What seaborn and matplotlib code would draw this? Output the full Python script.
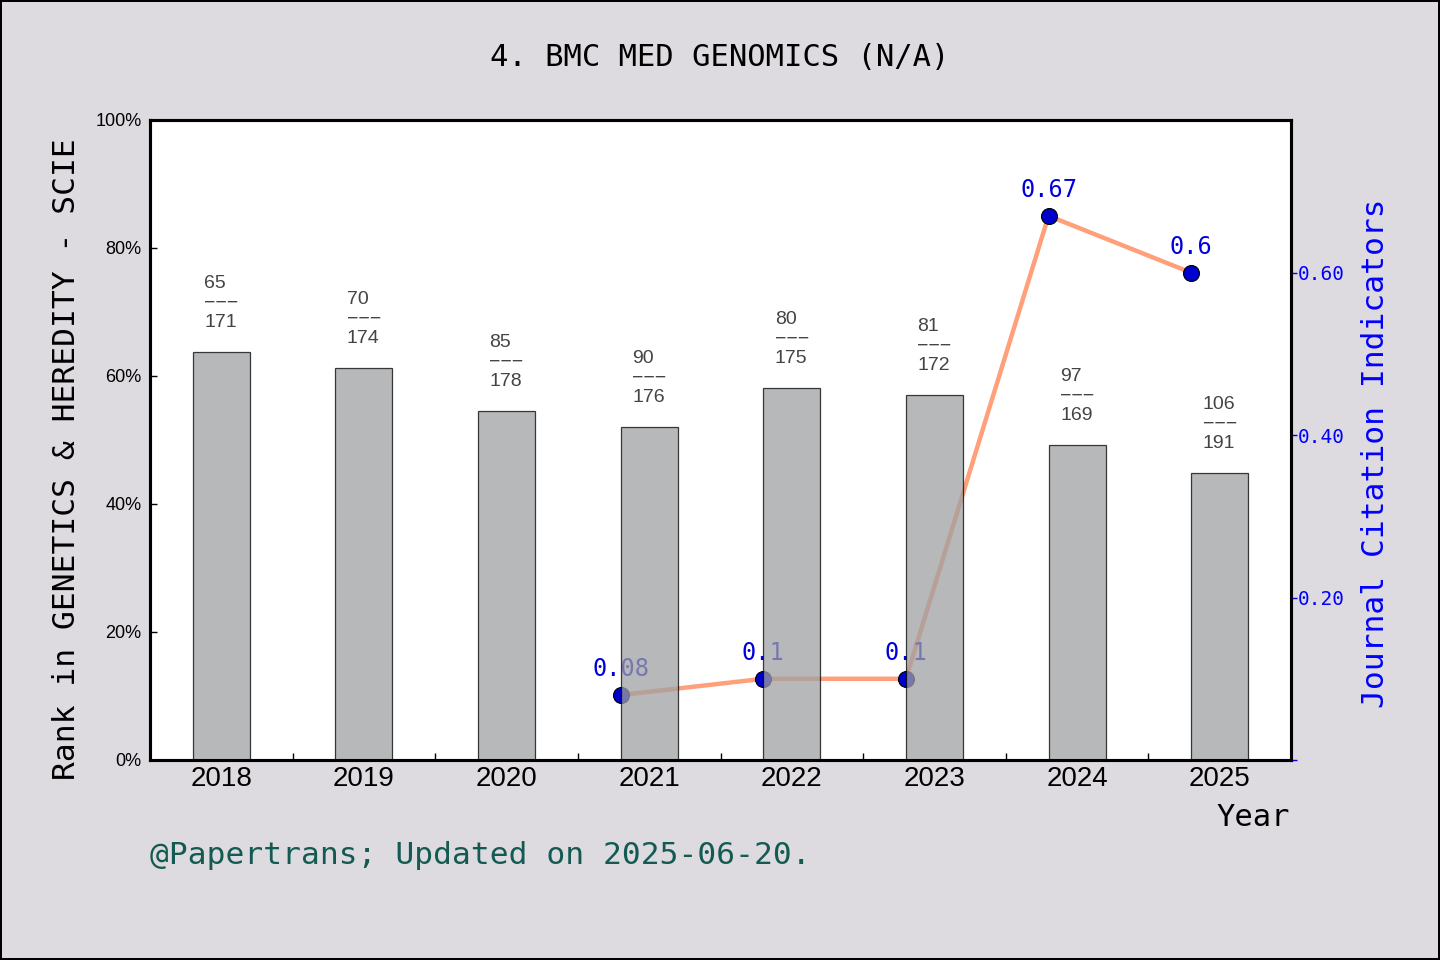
import numpy as np
import pandas as pd
import matplotlib
matplotlib.use('Agg')
import matplotlib.pyplot as plt
import seaborn as sns

# data
years = ['2018', '2019', '2020', '2021', '2022', '2023', '2024', '2025']
rank = [65, 70, 85, 90, 80, 81, 97, 106]
total = [171, 174, 178, 176, 175, 172, 169, 191]
bar_pct = [63.7, 61.2, 54.5, 52.0, 58.1, 57.0, 49.2, 44.8]
jci_years = ['2021', '2022', '2023', '2024', '2025']
jci = [0.08, 0.1, 0.1, 0.67, 0.6]

sns.set_style('ticks')
plt.rcParams['font.family'] = ['DejaVu Sans']
plt.rcParams['text.color'] = 'black'

mono = 'DejaVu Sans Mono'
bg = '#dedbe0'

fig = plt.figure(figsize=(14.4, 9.6), dpi=100, facecolor=bg,
                 edgecolor='black', linewidth=1.5)
ax = fig.add_axes([150 / 1440, 1 - 760 / 960, (1291 - 150) / 1440, 640 / 960])
ax2 = ax.twinx()

df = pd.DataFrame({'year': years, 'pct': bar_pct})
sns.barplot(data=df, x='year', y='pct', ax=ax, width=0.4, color='#9fa0a3',
            saturation=1, alpha=0.75, edgecolor='black', linewidth=0.9)

# bar labels: rank / total
for i, (r, t, h) in enumerate(zip(rank, total, bar_pct)):
    ax.annotate(f'{r}\n\u2212\u2212\u2212\n{t}', xy=(i, h), xytext=(0, 15),
                textcoords='offset points', ha='center', va='bottom',
                multialignment='left', fontsize=14, color='#444444',
                family='Liberation Sans', linespacing=1.2)

# JCI line on the twin axis, drawn under the bars
pos = [years.index(y) - 0.2 for y in jci_years]
jdf = pd.DataFrame({'x': pos, 'jci': jci})
sns.lineplot(data=jdf, x='x', y='jci', ax=ax2, color='#ffa07a', linewidth=3.2,
             marker='o', markersize=11.5, markerfacecolor='#0000cd',
             markeredgecolor='black', markeredgewidth=0.8)
for x, v in zip(pos, jci):
    ax2.annotate(f'{v:g}', xy=(x, v), xytext=(0, 10), textcoords='offset points',
                 ha='center', va='bottom', fontsize=17, color='#0000dd', family=mono)

ax.set_zorder(2)
ax2.set_zorder(1)
ax.patch.set_visible(False)
ax2.patch.set_facecolor('white')
ax2.patch.set_visible(True)

ax.set_xlim(-0.5, 7.5)
ax.set_ylim(0, 100)
ax2.set_ylim(0, 0.788)

ax.set_xlabel('')
ax.set_ylabel('')
ax2.set_xlabel('')
ax2.set_ylabel('')

ax.set_yticks([0, 20, 40, 60, 80, 100])
ax.set_yticklabels(['0%', '20%', '40%', '60%', '80%', '100%'])
ax.tick_params(axis='y', direction='in', length=5, width=1, pad=6, labelsize=13,
               color='black', labelcolor='black')
for lab in ax.get_yticklabels():
    lab.set_family(['Liberation Sans Narrow', 'Liberation Sans'])

ax.set_xticks(range(len(years)))
ax.set_xticklabels(years)
ax.set_xticks(np.arange(0.5, len(years) - 0.5, 1), minor=True)
ax.tick_params(axis='x', which='major', length=0, pad=4, labelsize=20,
               labelcolor='black')
ax.tick_params(axis='x', which='minor', direction='in', length=5, width=1,
               color='black')
for lab in ax.get_xticklabels():
    lab.set_family('Liberation Sans')

ax2.set_yticks([0, 0.2, 0.4, 0.6])
ax2.set_yticklabels(['', '0.20', '0.40', '0.60'])
ax2.tick_params(axis='y', direction='out', length=4, width=1, colors='blue',
                labelcolor='blue', labelsize=14, pad=1)
for lab in ax2.get_yticklabels():
    lab.set_family(mono)

for a in (ax, ax2):
    for s in a.spines.values():
        s.set_visible(True)
        s.set_linewidth(2.2)
        s.set_color('black')

fig.text(0.5, 1 - 58 / 960, '4. BMC MED GENOMICS (N/A)', ha='center', va='center',
         fontsize=22, family=mono, color='black')
fig.text(67 / 1440, 1 - 459 / 960, 'Rank in GENETICS & HEREDITY - SCIE', rotation=90,
         ha='center', va='center', fontsize=22.5, family=mono, color='black')
fig.text(1375 / 1440, 1 - 453 / 960, 'Journal Citation Indicators', rotation=90,
         ha='center', va='center', fontsize=22.5, family=mono, color='blue')
fig.text(1290 / 1440, 1 - 817 / 960, 'Year', ha='right', va='center',
         fontsize=22, family=mono, color='black')
fig.text(150 / 1440, 1 - 855 / 960, '@Papertrans; Updated on 2025-06-20.', ha='left',
         va='center', fontsize=22.5, family=mono, color='#135b52')

fig.savefig('out.png', dpi=100, facecolor=bg, edgecolor='black')
